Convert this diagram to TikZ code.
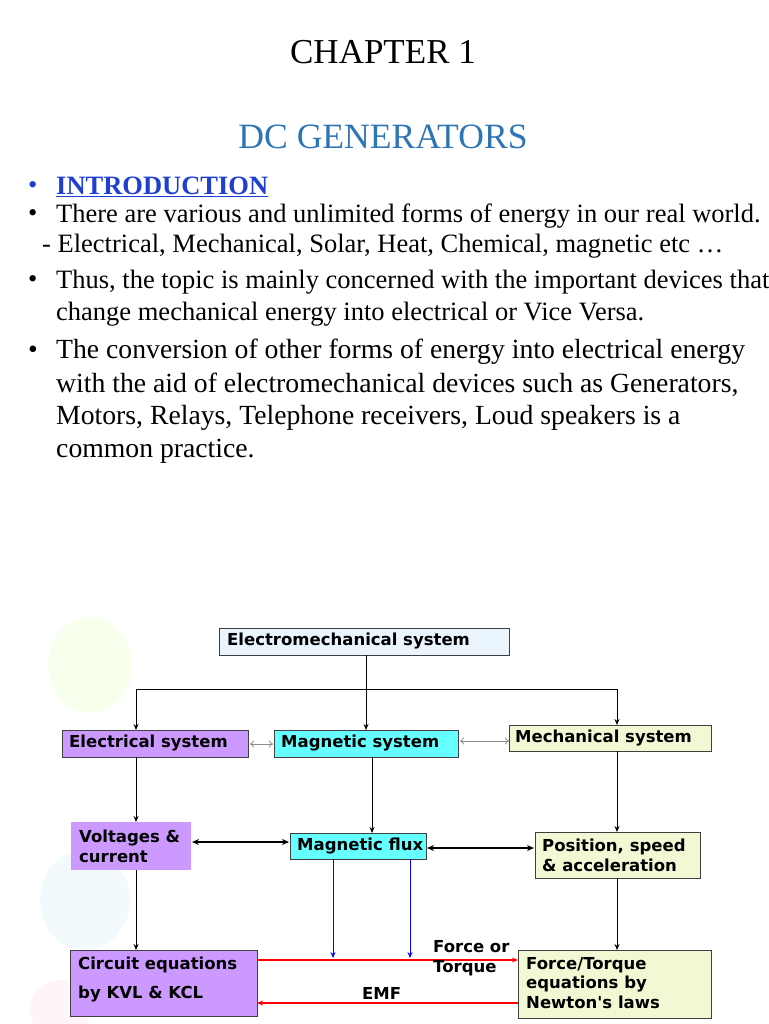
\documentclass[tikz,border=0pt]{standalone}
\usepackage{fontspec}
\setmainfont{Liberation Serif}
\newfontfamily\dv{DejaVu Sans}
\usetikzlibrary{arrows.meta}
\definecolor{ttl}{HTML}{2E75B6}
\definecolor{intro}{HTML}{1F3FD0}
\definecolor{pur}{HTML}{CC99FF}
\definecolor{cya}{HTML}{66FFFF}
\definecolor{grn}{HTML}{F0F8D4}
\definecolor{lbl}{HTML}{EAF4FC}
\begin{document}
\begin{tikzpicture}[x=1pt,y=-1pt,
 body/.style={anchor=west,font=\fontsize{26.5}{30}\selectfont,inner sep=0},
 big/.style={font=\fontsize{27.7}{32}\selectfont},
 box/.style={draw=black!75,line width=0.8pt,anchor=north west,inner sep=0},
 lab/.style={font=\dv\bfseries\fontsize{16.5}{20}\selectfont,align=left,anchor=west,inner sep=0},
 ar/.style={-{Stealth[length=6pt,width=5pt]},line width=1pt},
 dar/.style={{Stealth[length=7pt,width=6pt]}-{Stealth[length=7pt,width=6pt]},line width=1.6pt},
 gar/.style={{To[length=4pt,width=7pt]}-{To[length=4pt,width=7pt]},draw=black!45,line width=0.8pt}]
\useasboundingbox (0,0) rectangle (768,1024);
\fill[white] (0,0) rectangle (768,1024);
% faint background balloons
\fill[green!40!yellow,opacity=0.07] (90,665) ellipse (42 and 48);
\fill[cyan,opacity=0.05] (85,900) ellipse (45 and 50);
\fill[magenta,opacity=0.04] (60,1010) ellipse (30 and 30);
\node[inner sep=0,font=\fontsize{35}{40}\selectfont] (t1) at (383,52) {CHAPTER 1};
\node[inner sep=0,font=\fontsize{35.6}{40}\selectfont,text=ttl] (t2) at (383,137) {DC GENERATORS};
\node[body,text=intro] (b0) at (28,188) {•};
\node[body,text=intro] (i0) at (56,187) {\bfseries\underline{INTRODUCTION}};
\node[body] (b1) at (28,216) {•};
\node[body] (l1) at (56,216) {There are various and unlimited forms of energy in our real world.};
\node[body] (l2) at (42,246) {- Electrical, Mechanical, Solar, Heat, Chemical, magnetic etc …};
\node[body] (b2) at (28,282) {•};
\node[body] (l3) at (56,282) {Thus, the topic is mainly concerned with the important devices that};
\node[body] (l4) at (56,314) {change mechanical energy into electrical or Vice Versa.};
\node[body,big] (b3) at (28,352) {•};
\node[body,big] (l5) at (56,352) {The conversion of other forms of energy into electrical energy};
\node[body,big] (l6) at (56,385) {with the aid of electromechanical devices such as Generators,};
\node[body,big] (l7) at (56,418) {Motors, Relays, Telephone receivers, Loud speakers is a};
\node[body,big] (l8) at (56,451) {common practice.};
% boxes
\node[box,fill=lbl,minimum width=290,minimum height=27] (em) at (219,628) {};
\node[lab] at (227,641.5) {Electromechanical system};
\node[box,fill=pur,minimum width=186,minimum height=27] (el) at (62,730) {};
\node[lab] at (69,743.5) {Electrical system};
\node[box,fill=cya,minimum width=184,minimum height=27] (mg) at (274,730) {};
\node[lab] at (281,743.5) {Magnetic system};
\node[box,fill=grn,minimum width=202,minimum height=26] (me) at (509,725) {};
\node[lab] at (515,738) {Mechanical system};
\node[box,draw=none,fill=pur,minimum width=120,minimum height=48] (vc) at (71,822) {};
\node[lab] at (79,846) {Voltages \&\\current};
\node[box,fill=cya,minimum width=136,minimum height=26] (mf) at (290,833) {};
\node[lab] at (297,846) {Magnetic flux};
\node[box,fill=grn,minimum width=165,minimum height=46] (ps) at (535,832) {};
\node[lab] at (542,855) {Position, speed\\\& acceleration};
\node[box,fill=pur,minimum width=187,minimum height=66] (ce) at (70,950) {};
\node[lab,font=\dv\bfseries\fontsize{16.5}{29}\selectfont] at (78,979) {Circuit equations\\by KVL \& KCL};
\node[box,fill=grn,minimum width=193,minimum height=68] (fe) at (518,950) {};
\node[lab,font=\dv\bfseries\fontsize{16.5}{19.5}\selectfont] at (526,983) {Force/Torque\\equations by\\Newton's laws};
% connectors
\coordinate (jl) at (136,689); \coordinate (jr) at (617,689);
\draw[ar] (366,655) -- (366,730);
\draw[line width=1pt] (jl) -- (jr);
\draw[ar] (jl) -- (136,730);
\draw[ar] (jr) -- (617,725);
\draw[gar] (250,744) -- (273,744);
\draw[gar] (460,741) -- (509,741);
\draw[ar] (136,757) -- (136,822);
\draw[ar] (372,757) -- (372,833);
\draw[ar] (617,751) -- (617,832);
\draw[dar] (192,842) -- (289,842);
\draw[dar] (427,848) -- (534,848);
\draw[ar] (136,870) -- (136,950);
\draw[ar] (617,878) -- (617,950);
\draw[ar,blue,line width=0.8pt] (333,859) -- (333,958);
\draw[ar,blue,line width=1pt] (410,859) -- (410,958);
\draw[ar,red,line width=1.4pt] (257,960) -- (518,960);
\draw[ar,red,line width=1.4pt] (518,1003) -- (257,1003);
\node[lab,align=left] at (433,958) {Force or\\Torque};
\node[lab] at (362,993) {EMF};
\end{tikzpicture}
\end{document}
